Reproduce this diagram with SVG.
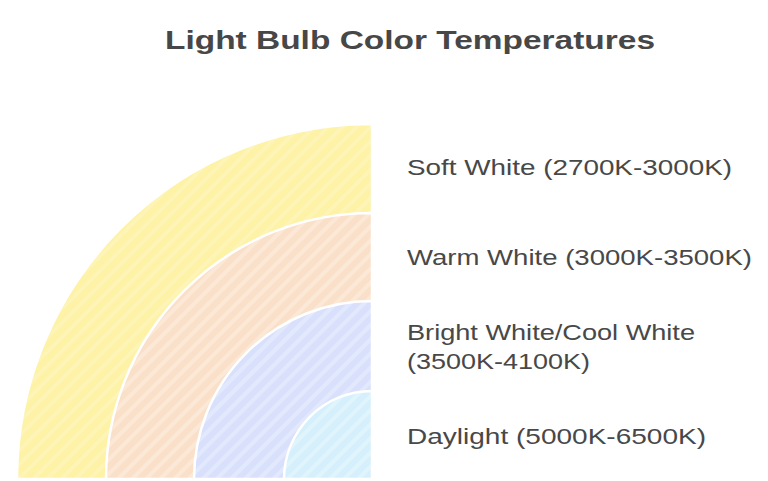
<svg xmlns="http://www.w3.org/2000/svg" width="768" height="481" viewBox="0 0 768 481">
<style>
.lbl{font-family:"Liberation Sans",Arial,sans-serif;font-size:22px;fill:#484848}
.title{font-family:"Liberation Sans",Arial,sans-serif;font-size:26px;font-weight:bold;fill:#474747}
.ring{stroke:#ffffff;stroke-width:2.5}
</style>
<defs>
<pattern id="pY" patternUnits="userSpaceOnUse" width="10" height="10" patternTransform="rotate(45)">
<rect width="10" height="10" fill="#fdf2a6"/><rect width="4" height="10" fill="#fdf4b6"/></pattern>
<pattern id="pP" patternUnits="userSpaceOnUse" width="10" height="10" patternTransform="rotate(45)">
<rect width="10" height="10" fill="#fae0c8"/><rect width="4" height="10" fill="#fbe8d6"/></pattern>
<pattern id="pB" patternUnits="userSpaceOnUse" width="10" height="10" patternTransform="rotate(45)">
<rect width="10" height="10" fill="#d8e0fc"/><rect width="4" height="10" fill="#e3e9fc"/></pattern>
<pattern id="pC" patternUnits="userSpaceOnUse" width="10" height="10" patternTransform="rotate(45)">
<rect width="10" height="10" fill="#d5f0fc"/><rect width="4" height="10" fill="#e0f4fc"/></pattern>
</defs>
<rect width="768" height="481" fill="#ffffff"/>
<text class="title" x="410" y="49" text-anchor="middle" textLength="490" lengthAdjust="spacingAndGlyphs">Light Bulb Color Temperatures</text>
<g id="soft-white">
<path class="ring" d="M372 479 L17 479 A355 355 0 0 1 372 124 Z" fill="url(#pY)"/>
<text class="lbl" x="407" y="175" textLength="325" lengthAdjust="spacingAndGlyphs">Soft White (2700K-3000K)</text>
</g>
<g id="warm-white">
<path class="ring" d="M372 479 L106 479 A266 266 0 0 1 372 213 Z" fill="url(#pP)"/>
<text class="lbl" x="407" y="265" textLength="345" lengthAdjust="spacingAndGlyphs">Warm White (3000K-3500K)</text>
</g>
<g id="bright-white">
<path class="ring" d="M372 479 L194 479 A178 178 0 0 1 372 301 Z" fill="url(#pB)"/>
<text class="lbl" x="407" y="340" textLength="288" lengthAdjust="spacingAndGlyphs">Bright White/Cool White</text>
<text class="lbl" x="407" y="369" textLength="183" lengthAdjust="spacingAndGlyphs">(3500K-4100K)</text>
</g>
<g id="daylight">
<path class="ring" d="M372 479 L284 479 A88 88 0 0 1 372 391 Z" fill="url(#pC)"/>
<text class="lbl" x="407" y="444" textLength="299" lengthAdjust="spacingAndGlyphs">Daylight (5000K-6500K)</text>
</g>
<g id="connectors"/>
</svg>
